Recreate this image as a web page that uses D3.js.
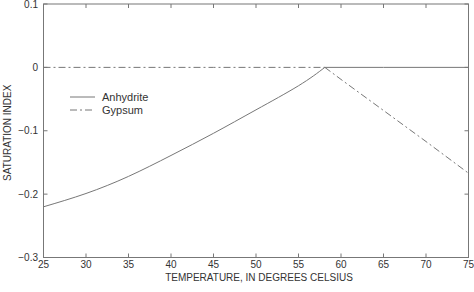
<!DOCTYPE html>
<html>
<head>
<meta charset="utf-8">
<script src="https://cdn.jsdelivr.net/npm/d3@7"></script>
<style>
  body { margin: 0; background: #fff; }
  text { font-family: "Liberation Sans", Arial, sans-serif; fill: #333; }
</style>
</head>
<body>
<svg id="chart" width="474" height="292"></svg>
<script>
// values
var temperature = [25, 30, 35, 40, 45, 50, 55, 58.1, 60, 65, 70, 75];
var anhydrite   = [-0.22, -0.199, -0.172, -0.139, -0.104, -0.067, -0.029, 0, 0, 0, 0, 0];
var gypsum      = [0, 0, 0, 0, 0, 0, 0, 0, -0.019, -0.068, -0.117, -0.167];
var xTicks = [25, 30, 35, 40, 45, 50, 55, 60, 65, 70, 75];
var yTicks = [0.1, 0, -0.1, -0.2, -0.3];
var seriesNames = ["Anhydrite", "Gypsum"];

var svg = d3.select("#chart");
// note: "top" is window.top, so plot edges get their own names
var pLeft = 43.5, pRight = 468.5, pTop = 4, pBottom = 257.5;
var axisCol = "#777", lineCol = "#777";

var x = d3.scaleLinear().domain([25, 75]).range([pLeft, pRight]);
var y = d3.scaleLinear().domain([-0.3, 0.1]).range([pBottom, pTop]);

function fmt(v) {
  if (v == 0) return "0";
  return d3.format(".1f")(v);
}

// frame
svg.append("rect")
  .attr("x", pLeft).attr("y", pTop)
  .attr("width", pRight - pLeft).attr("height", pBottom - pTop)
  .attr("fill", "none").attr("stroke", axisCol).attr("stroke-width", 1);

// inward ticks on all four sides
var tl = 4;
xTicks.forEach(function(t) {
  svg.append("line").attr("x1", x(t)).attr("x2", x(t))
    .attr("y1", pBottom).attr("y2", pBottom - tl).attr("stroke", axisCol);
  svg.append("line").attr("x1", x(t)).attr("x2", x(t))
    .attr("y1", pTop).attr("y2", pTop + tl).attr("stroke", axisCol);
  svg.append("text").attr("x", x(t)).attr("y", 268)
    .attr("text-anchor", "middle").attr("font-size", 10).text(t);
});
yTicks.forEach(function(t) {
  svg.append("line").attr("x1", pLeft).attr("x2", pLeft + tl)
    .attr("y1", y(t)).attr("y2", y(t)).attr("stroke", axisCol);
  svg.append("line").attr("x1", pRight).attr("x2", pRight - tl)
    .attr("y1", y(t)).attr("y2", y(t)).attr("stroke", axisCol);
  svg.append("text").attr("x", 38).attr("y", y(t) + 3.5)
    .attr("text-anchor", "end").attr("font-size", 10).text(fmt(t));
});

// axis titles
svg.append("text").attr("x", (pLeft + pRight) / 2 + 3).attr("y", 281)
  .attr("text-anchor", "middle").attr("font-size", 10)
  .text("TEMPERATURE, IN DEGREES CELSIUS");
svg.append("text")
  .attr("transform", "translate(11," + ((pTop + pBottom) / 2 + 2) + ") rotate(-90)")
  .attr("text-anchor", "middle").attr("font-size", 10)
  .text("SATURATION INDEX");

// series
function lineWith(curve) {
  return d3.line()
    .x(function(d) { return x(d[0]); })
    .y(function(d) { return y(d[1]); })
    .curve(curve);
}

var dashes = [null, "7,3,2,3"];
// split each series at the crossing point so the corner stays sharp,
// the rising anhydrite part is smoothed
var peak = temperature.indexOf(58.1);
[anhydrite, gypsum].forEach(function(vals, i) {
  var pts = temperature.map(function(t, j) { return [t, vals[j]]; });
  var parts = [pts.slice(0, peak + 1), pts.slice(peak)];
  parts.forEach(function(p, k) {
    var curve = (i == 0 && k == 0) ? d3.curveNatural : d3.curveLinear;
    svg.append("path").datum(p)
      .attr("d", lineWith(curve))
      .attr("fill", "none")
      .attr("stroke", lineCol)
      .attr("stroke-width", 1)
      .attr("stroke-dasharray", dashes[i]);
  });
});

// legend
seriesNames.forEach(function(name, i) {
  var ly = 97 + i * 13;
  svg.append("line").attr("x1", 70).attr("x2", 95)
    .attr("y1", ly).attr("y2", ly)
    .attr("stroke", lineCol).attr("stroke-dasharray", dashes[i]);
  svg.append("text").attr("x", 102).attr("y", ly + 4)
    .attr("font-size", 11).text(name);
});
</script>
</body>
</html>
